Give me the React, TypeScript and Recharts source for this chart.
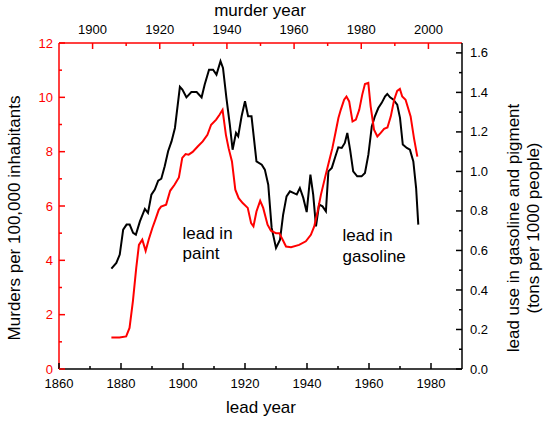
import { Line, LineChart, XAxis, YAxis } from "recharts";

// black curve: lead use, plotted against lead year (bottom / right axes)
const LEAD_YEARS = [
  1876.9, 1878.5, 1879.6, 1880.7, 1881.8, 1882.8, 1883.9, 1884.8, 1886.1, 1887.7,
  1888.7, 1889.8, 1890.9, 1892.0, 1893.0, 1894.1, 1895.2, 1896.3, 1897.4, 1899.0,
  1899.8, 1901.1, 1902.7, 1904.4, 1906.0, 1907.0, 1908.4, 1909.7, 1910.8, 1912.1,
  1912.9, 1914.0, 1915.1, 1916.0, 1917.1, 1917.8, 1918.9, 1920.0, 1921.0, 1922.1,
  1923.7, 1925.4, 1926.4, 1927.5, 1928.6, 1930.0, 1931.3, 1932.3, 1933.4, 1934.5,
  1935.6, 1936.7, 1937.7, 1938.8, 1939.9, 1941.1, 1942.0, 1942.9, 1943.9, 1945.0,
  1946.1, 1946.9, 1948.0, 1949.0, 1950.1, 1951.2, 1952.2, 1953.0, 1953.9, 1954.9,
  1956.2, 1957.6, 1958.7, 1959.8, 1960.9, 1961.9, 1963.0, 1964.1, 1965.2, 1965.9,
  1966.8, 1967.8, 1969.1, 1970.0, 1970.9, 1972.2, 1973.2, 1974.3, 1975.2, 1975.9,
];
const LEAD_USE = [
  0.508, 0.537, 0.579, 0.705, 0.731, 0.731, 0.689, 0.68, 0.747, 0.81,
  0.79, 0.882, 0.908, 0.953, 0.963, 1.026, 1.102, 1.152, 1.22, 1.428,
  1.414, 1.375, 1.402, 1.402, 1.375, 1.44, 1.515, 1.515, 1.49, 1.558,
  1.524, 1.372, 1.237, 1.11, 1.195, 1.178, 1.279, 1.355, 1.279, 1.279,
  1.051, 1.034, 1.009, 0.933, 0.714, 0.613, 0.655, 0.781, 0.874, 0.899,
  0.891, 0.883, 0.916, 0.866, 0.794, 0.984, 0.883, 0.722, 0.832, 0.823,
  0.798, 1.0, 1.018, 1.068, 1.122, 1.119, 1.144, 1.195, 1.11, 1.0,
  0.975, 0.975, 0.992, 1.085, 1.228, 1.279, 1.321, 1.347, 1.38, 1.392,
  1.375, 1.364, 1.338, 1.271, 1.136, 1.119, 1.11, 1.051, 0.916, 0.731,
];

// red curve: murders per 100,000, plotted against murder year (top / left axes)
const MURDER_YEARS = [
  1905.6, 1908.0, 1910.0, 1911.0, 1912.0, 1913.0, 1913.8, 1914.8, 1915.8, 1916.7,
  1917.8, 1918.7, 1919.7, 1920.4, 1921.9, 1923.1, 1924.4, 1925.7, 1926.7, 1927.7,
  1928.6, 1929.8, 1931.3, 1932.8, 1934.2, 1935.3, 1936.8, 1937.8, 1938.7, 1939.7,
  1940.5, 1941.5, 1942.5, 1943.5, 1944.7, 1946.2, 1947.2, 1947.9, 1948.8, 1949.9,
  1950.8, 1952.1, 1953.1, 1954.6, 1955.6, 1956.6, 1957.6, 1959.1, 1961.5, 1963.5,
  1965.0, 1966.0, 1967.0, 1968.0, 1969.3, 1970.4, 1971.4, 1972.4, 1973.2, 1973.9,
  1974.9, 1975.6, 1976.4, 1977.4, 1978.4, 1979.4, 1980.3, 1981.1, 1982.1, 1982.8,
  1983.8, 1984.8, 1985.8, 1986.8, 1987.8, 1988.8, 1989.8, 1990.7, 1991.5, 1992.2,
  1993.2, 1994.7, 1995.7, 1996.7,
];
const MURDER_RATES = [
  1.16, 1.16, 1.2, 1.51, 2.49, 3.72, 4.57, 4.76, 4.35, 4.76,
  5.19, 5.5, 5.86, 5.98, 6.05, 6.56, 6.78, 7.05, 7.77, 7.91,
  7.89, 7.99, 8.19, 8.38, 8.62, 8.99, 9.18, 9.36, 9.54, 8.62,
  8.13, 7.64, 6.6, 6.29, 6.11, 5.93, 5.37, 5.25, 5.8, 6.19,
  5.93, 5.31, 5.09, 5.0, 5.0, 4.76, 4.51, 4.48, 4.57, 4.7,
  4.94, 5.25, 5.8, 6.42, 7.09, 7.64, 8.13, 8.74, 9.24, 9.54,
  9.91, 10.03, 9.85, 9.11, 9.18, 9.54, 10.1, 10.49, 10.53, 9.67,
  8.81, 8.56, 8.69, 8.84, 8.89, 9.3, 9.91, 10.24, 10.31, 10.03,
  9.91, 9.3, 8.5, 7.82,
];

const LEAD_YEAR_TICKS = [1860, 1870, 1880, 1890, 1900, 1910, 1920, 1930, 1940, 1950, 1960, 1970, 1980];
const MURDER_YEAR_TICKS = [1900, 1910, 1920, 1930, 1940, 1950, 1960, 1970, 1980, 1990, 2000];
const RATE_TICKS = [0, 1, 2, 3, 4, 5, 6, 7, 8, 9, 10, 11, 12];
const USE_TICKS = [0, 0.1, 0.2, 0.3, 0.4, 0.5, 0.6, 0.7, 0.8, 0.9, 1.0, 1.1, 1.2, 1.3, 1.4, 1.5, 1.6];

const leadData = LEAD_YEARS.map((year, i) => ({ year, value: LEAD_USE[i] }));
const murderData = MURDER_YEARS.map((year, i) => ({ year, value: MURDER_RATES[i] }));

const RED = "#ff0000";
const FONT = '"Liberation Sans", Arial, sans-serif';

type Side = "top" | "bottom" | "left" | "right";

// ticks point into the plot, labels sit outside; minor ticks are shorter and unlabeled
function makeTick(
  side: Side,
  tickColor: string,
  labelColor: string,
  isMajor: (v: number) => boolean,
  fmt: (v: number) => string
) {
  return (props: any) => {
    const { x, y, payload } = props;
    const v = payload.value as number;
    const major = isMajor(v);
    const len = major ? 6 : 3;
    let line;
    let label = null;
    if (side === "left") {
      line = <line x1={x} x2={x + len} y1={y} y2={y} stroke={tickColor} strokeWidth={1.5} />;
      if (major)
        label = (
          <text x={x - 6} y={y} dy="0.35em" textAnchor="end" fill={labelColor} fontSize={13} fontFamily={FONT}>
            {fmt(v)}
          </text>
        );
    } else if (side === "right") {
      line = <line x1={x} x2={x - len} y1={y} y2={y} stroke={tickColor} strokeWidth={1.5} />;
      if (major)
        label = (
          <text x={x + 8} y={y} dy="0.35em" textAnchor="start" fill={labelColor} fontSize={13} fontFamily={FONT}>
            {fmt(v)}
          </text>
        );
    } else if (side === "top") {
      line = <line x1={x} x2={x} y1={y} y2={y + len} stroke={tickColor} strokeWidth={1.5} />;
      if (major)
        label = (
          <text x={x} y={y - 14} dy="0.35em" textAnchor="middle" fill={labelColor} fontSize={13} fontFamily={FONT}>
            {fmt(v)}
          </text>
        );
    } else {
      line = <line x1={x} x2={x} y1={y} y2={y - len} stroke={tickColor} strokeWidth={1.5} />;
      if (major)
        label = (
          <text x={x} y={y + 14} dy="0.35em" textAnchor="middle" fill={labelColor} fontSize={13} fontFamily={FONT}>
            {fmt(v)}
          </text>
        );
    }
    return (
      <g>
        {line}
        {label}
      </g>
    );
  };
}

const yearMajor = (v: number) => v % 20 === 0;
const rateMajor = (v: number) => v % 2 === 0;
const useMajor = (v: number) => Math.round(v * 10) % 2 === 0;

export default function App() {
  return (
    <div style={{ position: "absolute", left: 0, top: 0, width: 550, height: 421, background: "#fff" }}>
      <LineChart width={550} height={421} margin={{ top: 0, right: 0, bottom: 0, left: 0 }}>
        <XAxis
          xAxisId="lead"
          dataKey="year"
          type="number"
          orientation="bottom"
          domain={[1860, 1990]}
          ticks={LEAD_YEAR_TICKS}
          interval={0}
          height={52}
          tickSize={0}
          tickMargin={0}
          tickLine={false}
          axisLine={{ stroke: "#000", strokeWidth: 1.5 }}
          tick={makeTick("bottom", "#000", "#000", yearMajor, (v) => String(v))}
          allowDataOverflow
        />
        <XAxis
          xAxisId="murder"
          dataKey="year"
          type="number"
          orientation="top"
          domain={[1890, 2010]}
          ticks={MURDER_YEAR_TICKS}
          interval={0}
          height={43}
          tickSize={0}
          tickMargin={0}
          tickLine={false}
          axisLine={{ stroke: RED, strokeWidth: 1.5 }}
          tick={makeTick("top", RED, "#000", yearMajor, (v) => String(v))}
          allowDataOverflow
        />
        <YAxis
          yAxisId="murders"
          orientation="left"
          domain={[0, 12]}
          ticks={RATE_TICKS}
          interval={0}
          width={59}
          tickSize={0}
          tickMargin={0}
          tickLine={false}
          axisLine={{ stroke: RED, strokeWidth: 1.5 }}
          tick={makeTick("left", RED, RED, rateMajor, (v) => String(v))}
          allowDataOverflow
        />
        <YAxis
          yAxisId="lead"
          orientation="right"
          domain={[0, 1.65]}
          ticks={USE_TICKS}
          interval={0}
          width={88}
          tickSize={0}
          tickMargin={0}
          tickLine={false}
          axisLine={{ stroke: "#000", strokeWidth: 1.5 }}
          tick={makeTick("right", "#000", "#000", useMajor, (v) => v.toFixed(1))}
          allowDataOverflow
        />
        <Line
          xAxisId="lead"
          yAxisId="lead"
          data={leadData}
          dataKey="value"
          type="linear"
          stroke="#000"
          strokeWidth={2}
          dot={false}
          isAnimationActive={false}
        />
        <Line
          xAxisId="murder"
          yAxisId="murders"
          data={murderData}
          dataKey="value"
          type="linear"
          stroke={RED}
          strokeWidth={2}
          dot={false}
          isAnimationActive={false}
        />
      </LineChart>
      <svg
        width={550}
        height={421}
        style={{ position: "absolute", left: 0, top: 0, pointerEvents: "none" }}
        fontFamily={FONT}
        fontSize={17}
        fill="#000"
      >
        <text x={260} y={15.5} textAnchor="middle">murder year</text>
        <text x={261} y={413} textAnchor="middle">lead year</text>
        <text transform="translate(20,218) rotate(-90)" textAnchor="middle">
          Murders per 100,000 inhabitants
        </text>
        <text transform="translate(519,228) rotate(-90)" textAnchor="middle">
          lead use in gasoline and pigment
        </text>
        <text transform="translate(539,228) rotate(-90)" textAnchor="middle">
          (tons per 1000 people)
        </text>
        <text x={182.5} y={238.5}>lead in</text>
        <text x={182.5} y={259}>paint</text>
        <text x={342.5} y={240.5}>lead in</text>
        <text x={342.5} y={261.5}>gasoline</text>
      </svg>
    </div>
  );
}
